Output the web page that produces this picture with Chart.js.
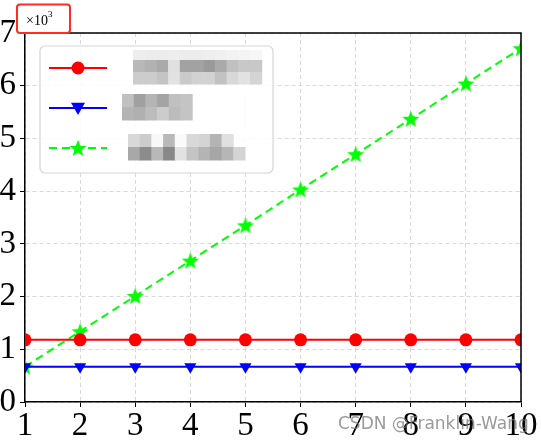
<!DOCTYPE html>
<html>
<head>
<meta charset="utf-8">
<script src="https://cdn.jsdelivr.net/npm/chart.js@4.4.0/dist/chart.umd.min.js"></script>
<style>
  html, body { margin: 0; padding: 0; background: #fff; }
  #wrap { width: 541px; height: 441px; position: relative; }
</style>
</head>
<body>
<div id="wrap"><canvas id="myChart" width="541" height="441"></canvas></div>
<script>
// data (values in units of 10^3)
var xValues = [1, 2, 3, 4, 5, 6, 7, 8, 9, 10];
var redValues = [1.18, 1.18, 1.18, 1.18, 1.18, 1.18, 1.18, 1.18, 1.18, 1.18];
var blueValues = [0.67, 0.67, 0.67, 0.67, 0.67, 0.67, 0.67, 0.67, 0.67, 0.67];
var greenValues = [0.67, 1.34, 2.01, 2.68, 3.35, 4.03, 4.70, 5.37, 6.04, 6.71];
var yTicks = [0, 1, 2, 3, 4, 5, 6, 7];
var exponentLabel = '\u00d710';
var watermark = 'CSDN @Franklin-Wang';

// pixelated (blurred) legend labels, grey level per cell
var mosaicRows = [
    [[0xee, 0xec, 0xec, 0xee, 0xec, 0xec, 0xee, 0xf0, 0xf2, 0xf4, 0xf6],
     [0xb8, 0xb2, 0xaa, 0xe0, 0xa2, 0xa2, 0x9a, 0xaa, 0xc0, 0xc8, 0xc8],
     [0xcc, 0xcc, 0xc4, 0xe2, 0xca, 0xd2, 0xd2, 0xc2, 0xd8, 0xe2, 0xd4]],
    [[0xc0, 0xa0, 0xb4, 0xa4, 0xc0, 0xc4],
     [0xb4, 0xb0, 0xbc, 0xcc, 0xbc, 0xc4]],
    [[0xd8, 0xcc, 0xf8, 0xb8, 0xfa, 0xd8, 0xd4, 0xb4, 0xe0],
     [0xa8, 0x8c, 0xb8, 0x88, 0xe2, 0xc4, 0xb4, 0xa6, 0xb6, 0xd4]]
];

function makeStar(size, color) {
    var c = document.createElement('canvas');
    c.width = size; c.height = size;
    var g = c.getContext('2d');
    var cx = size / 2, cy = size / 2 + 0.8, R = size / 2, r = R * 0.42;
    g.beginPath();
    for (var i = 0; i < 10; i++) {
        var a = -Math.PI / 2 + i * Math.PI / 5;
        var rad = (i % 2 === 0) ? R : r;
        g.lineTo(cx + rad * Math.cos(a), cy + rad * Math.sin(a));
    }
    g.closePath();
    g.fillStyle = color;
    g.fill();
    return c;
}
var starImg = makeStar(18, '#00ff00');

var frameAndExtras = {
    id: 'frameAndExtras',
    afterDatasetsDraw: function(chart) {
        var ctx = chart.ctx;
        var a = chart.chartArea;
        ctx.save();
        // top and right frame
        ctx.strokeStyle = '#000';
        ctx.lineWidth = 1.5;
        ctx.beginPath();
        ctx.moveTo(a.left, a.top);
        ctx.lineTo(a.right, a.top);
        ctx.lineTo(a.right, a.bottom);
        ctx.stroke();

        // legend box
        var lx = 40, ly = 46, lw = 233, lh = 127;
        ctx.beginPath();
        ctx.roundRect(lx, ly, lw, lh, 5);
        ctx.fillStyle = 'rgba(255,255,255,0.85)';
        ctx.fill();
        ctx.strokeStyle = '#d6d6d6';
        ctx.lineWidth = 1.2;
        ctx.stroke();

        var rowsY = [68, 108, 148];
        var ds = chart.data.datasets;
        for (var i = 0; i < 3; i++) {
            var y = rowsY[i];
            ctx.strokeStyle = ds[i].borderColor;
            ctx.lineWidth = 2;
            ctx.setLineDash(ds[i].borderDash || []);
            ctx.beginPath();
            ctx.moveTo(49, y);
            ctx.lineTo(107, y);
            ctx.stroke();
            ctx.setLineDash([]);
            ctx.fillStyle = ds[i].pointBackgroundColor;
            if (ds[i].pointStyle === starImg) {
                ctx.drawImage(starImg, 78 - 9, y - 9);
            } else {
                ctx.beginPath();
                if (ds[i].pointStyle === 'circle') {
                    ctx.arc(78, y, ds[i].pointRadius, 0, Math.PI * 2);
                } else {
                    var r = ds[i].pointRadius;
                    ctx.moveTo(78 - r, y - r * 0.75);
                    ctx.lineTo(78 + r, y - r * 0.75);
                    ctx.lineTo(78, y + r);
                    ctx.closePath();
                }
                ctx.fill();
            }
        }

        // mosaic of the hidden label text
        var starts = [[133, 50], [122, 94], [128, 134]];
        var cw = 11.7, chs = [[10, 12, 12], [13, 13], [13, 13]];
        for (var k = 0; k < mosaicRows.length; k++) {
            var yy = starts[k][1];
            for (var j = 0; j < mosaicRows[k].length; j++) {
                var row = mosaicRows[k][j];
                for (var m = 0; m < row.length; m++) {
                    var v = row[m];
                    ctx.fillStyle = 'rgb(' + v + ',' + v + ',' + v + ')';
                    ctx.fillRect(starts[k][0] + m * cw, yy, cw + 0.5, chs[k][j] + 0.5);
                }
                yy += chs[k][j];
            }
        }

        // exponent label box
        ctx.beginPath();
        ctx.roundRect(17, 4.5, 53, 28.5, 3);
        ctx.strokeStyle = '#ff2a2a';
        ctx.lineWidth = 2;
        ctx.stroke();
        ctx.fillStyle = '#000';
        ctx.font = '14px "Liberation Serif"';
        ctx.textBaseline = 'alphabetic';
        ctx.textAlign = 'left';
        ctx.fillText(exponentLabel, 26, 25);
        ctx.font = '9px "Liberation Serif"';
        ctx.fillText('3', 48, 17);

        // watermark
        ctx.font = '17px "DejaVu Sans"';
        ctx.fillStyle = 'rgba(120,120,120,0.75)';
        ctx.fillText(watermark, 338, 429);
        ctx.restore();
    }
};

var ctx = document.getElementById('myChart').getContext('2d');
var myChart = new Chart(ctx, {
    type: 'line',
    data: {
        labels: xValues,
        datasets: [{
            label: 'red',
            data: redValues,
            borderColor: '#ff0000',
            backgroundColor: '#ff0000',
            pointBackgroundColor: '#ff0000',
            pointBorderWidth: 0,
            pointStyle: 'circle',
            pointRadius: 6.5,
            borderWidth: 2
        }, {
            label: 'blue',
            data: blueValues,
            borderColor: '#0000ff',
            backgroundColor: '#0000ff',
            pointBackgroundColor: '#0000ff',
            pointBorderWidth: 0,
            pointStyle: 'triangle',
            pointRotation: 180,
            pointRadius: 7,
            borderWidth: 2
        }, {
            label: 'green',
            data: greenValues,
            borderColor: '#00ff00',
            backgroundColor: '#00ff00',
            pointBackgroundColor: '#00ff00',
            pointBorderWidth: 0,
            pointStyle: starImg,
            pointRadius: 9,
            borderWidth: 2,
            borderDash: [8, 5]
        }].map(function(d) {
            d.data = d.data.map(function(v, j) { return { x: xValues[j], y: v }; });
            return d;
        })
    },
    options: {
        responsive: false,
        animation: false,
        devicePixelRatio: 1,
        layout: { padding: { top: 33, right: 20, left: 0, bottom: 0 } },
        plugins: {
            legend: { display: false },
            tooltip: { enabled: false }
        },
        scales: {
            x: {
                type: 'linear',
                min: 1,
                max: 10,
                afterFit: function(s) { s.height = 39; },
                afterBuildTicks: function(s) {
                    s.ticks = xValues.map(function(v) { return { value: v }; });
                },
                ticks: {
                    color: '#000',
                    padding: 0,
                    maxRotation: 0,
                    font: { family: 'Liberation Serif', size: 33 }
                },
                grid: {
                    color: '#d9d9d9',
                    tickColor: '#000',
                    tickLength: 5,
                    tickBorderDash: [],
                    lineWidth: 1
                },
                // in v4 border.dash sets the dash of the grid lines
                border: { color: '#000', width: 1.5, dash: [4, 3] }
            },
            y: {
                min: 0,
                max: 7,
                afterFit: function(s) { s.width = 25; },
                afterBuildTicks: function(s) {
                    s.ticks = yTicks.map(function(v) { return { value: v }; });
                },
                ticks: {
                    color: '#000',
                    padding: 4,
                    font: { family: 'Liberation Serif', size: 33 }
                },
                grid: {
                    color: '#d9d9d9',
                    tickColor: '#000',
                    tickLength: 5,
                    tickBorderDash: [],
                    lineWidth: 1
                },
                border: { color: '#000', width: 1.5, dash: [4, 3] }
            }
        }
    },
    plugins: [frameAndExtras]
});
</script>
</body>
</html>
